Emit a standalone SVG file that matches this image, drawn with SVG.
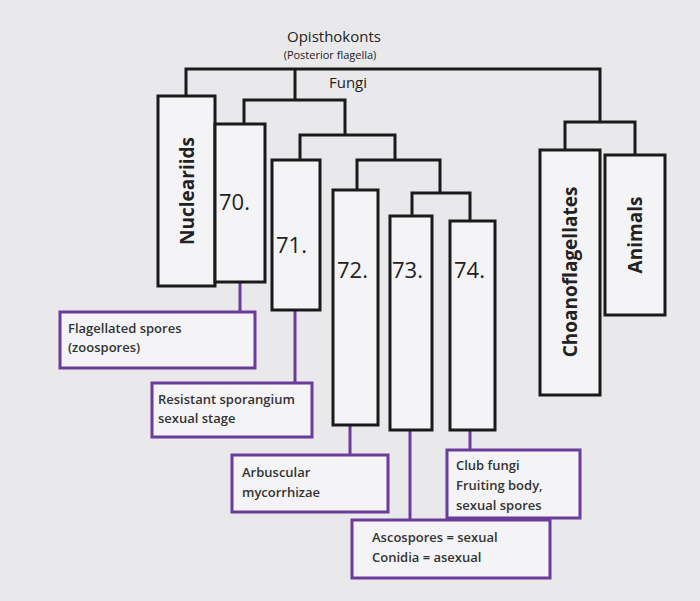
<svg xmlns="http://www.w3.org/2000/svg" width="700" height="601" viewBox="0 0 700 601">
<style>
.ln{fill:none;stroke:#1a1a1a;stroke-width:3}
.bx{fill:#f4f4f6;stroke:#1a1a1a;stroke-width:3}
.pb{fill:#f4f4f6;stroke:#6a3d9a;stroke-width:3}
.pl{fill:none;stroke:#6a3d9a;stroke-width:3}
text{font-family:"Open Sans","Liberation Sans",sans-serif;fill:#222}
.t{font-size:13px;font-weight:600;fill:#333}
.n{font-size:22px}
.r{font-size:19px;font-weight:700}
</style>
<rect width="700" height="601" fill="#e9e9ec"/>
<text x="334" y="42" font-size="15" text-anchor="middle">Opisthokonts</text>
<text x="330" y="59" font-size="11" text-anchor="middle">(Posterior flagella)</text>
<text x="348" y="88" font-size="15" text-anchor="middle">Fungi</text>
<g id="connectors">
<path class="ln" d="M186,96 V69 H600 V122"/>
<path class="ln" d="M565,150 V122 H635 V155"/>
<path class="ln" d="M295,69 V100"/>
<path class="ln" d="M244,124 V100 H345 V135"/>
<path class="ln" d="M300,160 V135 H395 V160"/>
<path class="ln" d="M357,190 V160 H440 V193"/>
<path class="ln" d="M412,216 V193 H470 V221"/>
<path class="pl" d="M240,282 V312"/>
<path class="pl" d="M295,310 V383"/>
<path class="pl" d="M350,425 V455"/>
<path class="pl" d="M410,430 V520"/>
<path class="pl" d="M470,430 V450"/>
</g>
<g id="nucleariids"><rect class="bx" x="158" y="96" width="57" height="190"/><text class="r" transform="translate(194,191) rotate(-90)" text-anchor="middle">Nucleariids</text></g>
<g id="n70"><rect class="bx" x="215" y="124" width="50" height="158"/><text class="n" x="219" y="210">70.</text></g>
<g id="n71"><rect class="bx" x="272" y="160" width="48" height="150"/><text class="n" x="276" y="253">71.</text></g>
<g id="n72"><rect class="bx" x="333" y="190" width="45" height="235"/><text class="n" x="337" y="278">72.</text></g>
<g id="n73"><rect class="bx" x="390" y="216" width="42" height="214"/><text class="n" x="392" y="278">73.</text></g>
<g id="n74"><rect class="bx" x="450" y="221" width="45" height="209"/><text class="n" x="454" y="278">74.</text></g>
<g id="choano"><rect class="bx" x="540" y="150" width="60" height="245"/><text class="r" transform="translate(577,272) rotate(-90)" text-anchor="middle">Choanoflagellates</text></g>
<g id="animals"><rect class="bx" x="605" y="155" width="60" height="160"/><text class="r" transform="translate(642,235) rotate(-90)" text-anchor="middle">Animals</text></g>
<g id="l1"><rect class="pb" x="60" y="312" width="195" height="56"/><text class="t" x="68" y="333">Flagellated spores</text><text class="t" x="68" y="352">(zoospores)</text></g>
<g id="l2"><rect class="pb" x="152" y="383" width="160" height="54"/><text class="t" x="158" y="404">Resistant sporangium</text><text class="t" x="158" y="423">sexual stage</text></g>
<g id="l3"><rect class="pb" x="232" y="455" width="156" height="57"/><text class="t" x="242" y="477">Arbuscular</text><text class="t" x="242" y="497">mycorrhizae</text></g>
<g id="l4"><rect class="pb" x="447" y="450" width="133" height="68"/><text class="t" x="456" y="470">Club fungi</text><text class="t" x="456" y="490">Fruiting body,</text><text class="t" x="456" y="510">sexual spores</text></g>
<g id="l5"><rect class="pb" x="352" y="520" width="198" height="58"/><text class="t" x="372" y="542">Ascospores = sexual</text><text class="t" x="372" y="562">Conidia = asexual</text></g>
</svg>
